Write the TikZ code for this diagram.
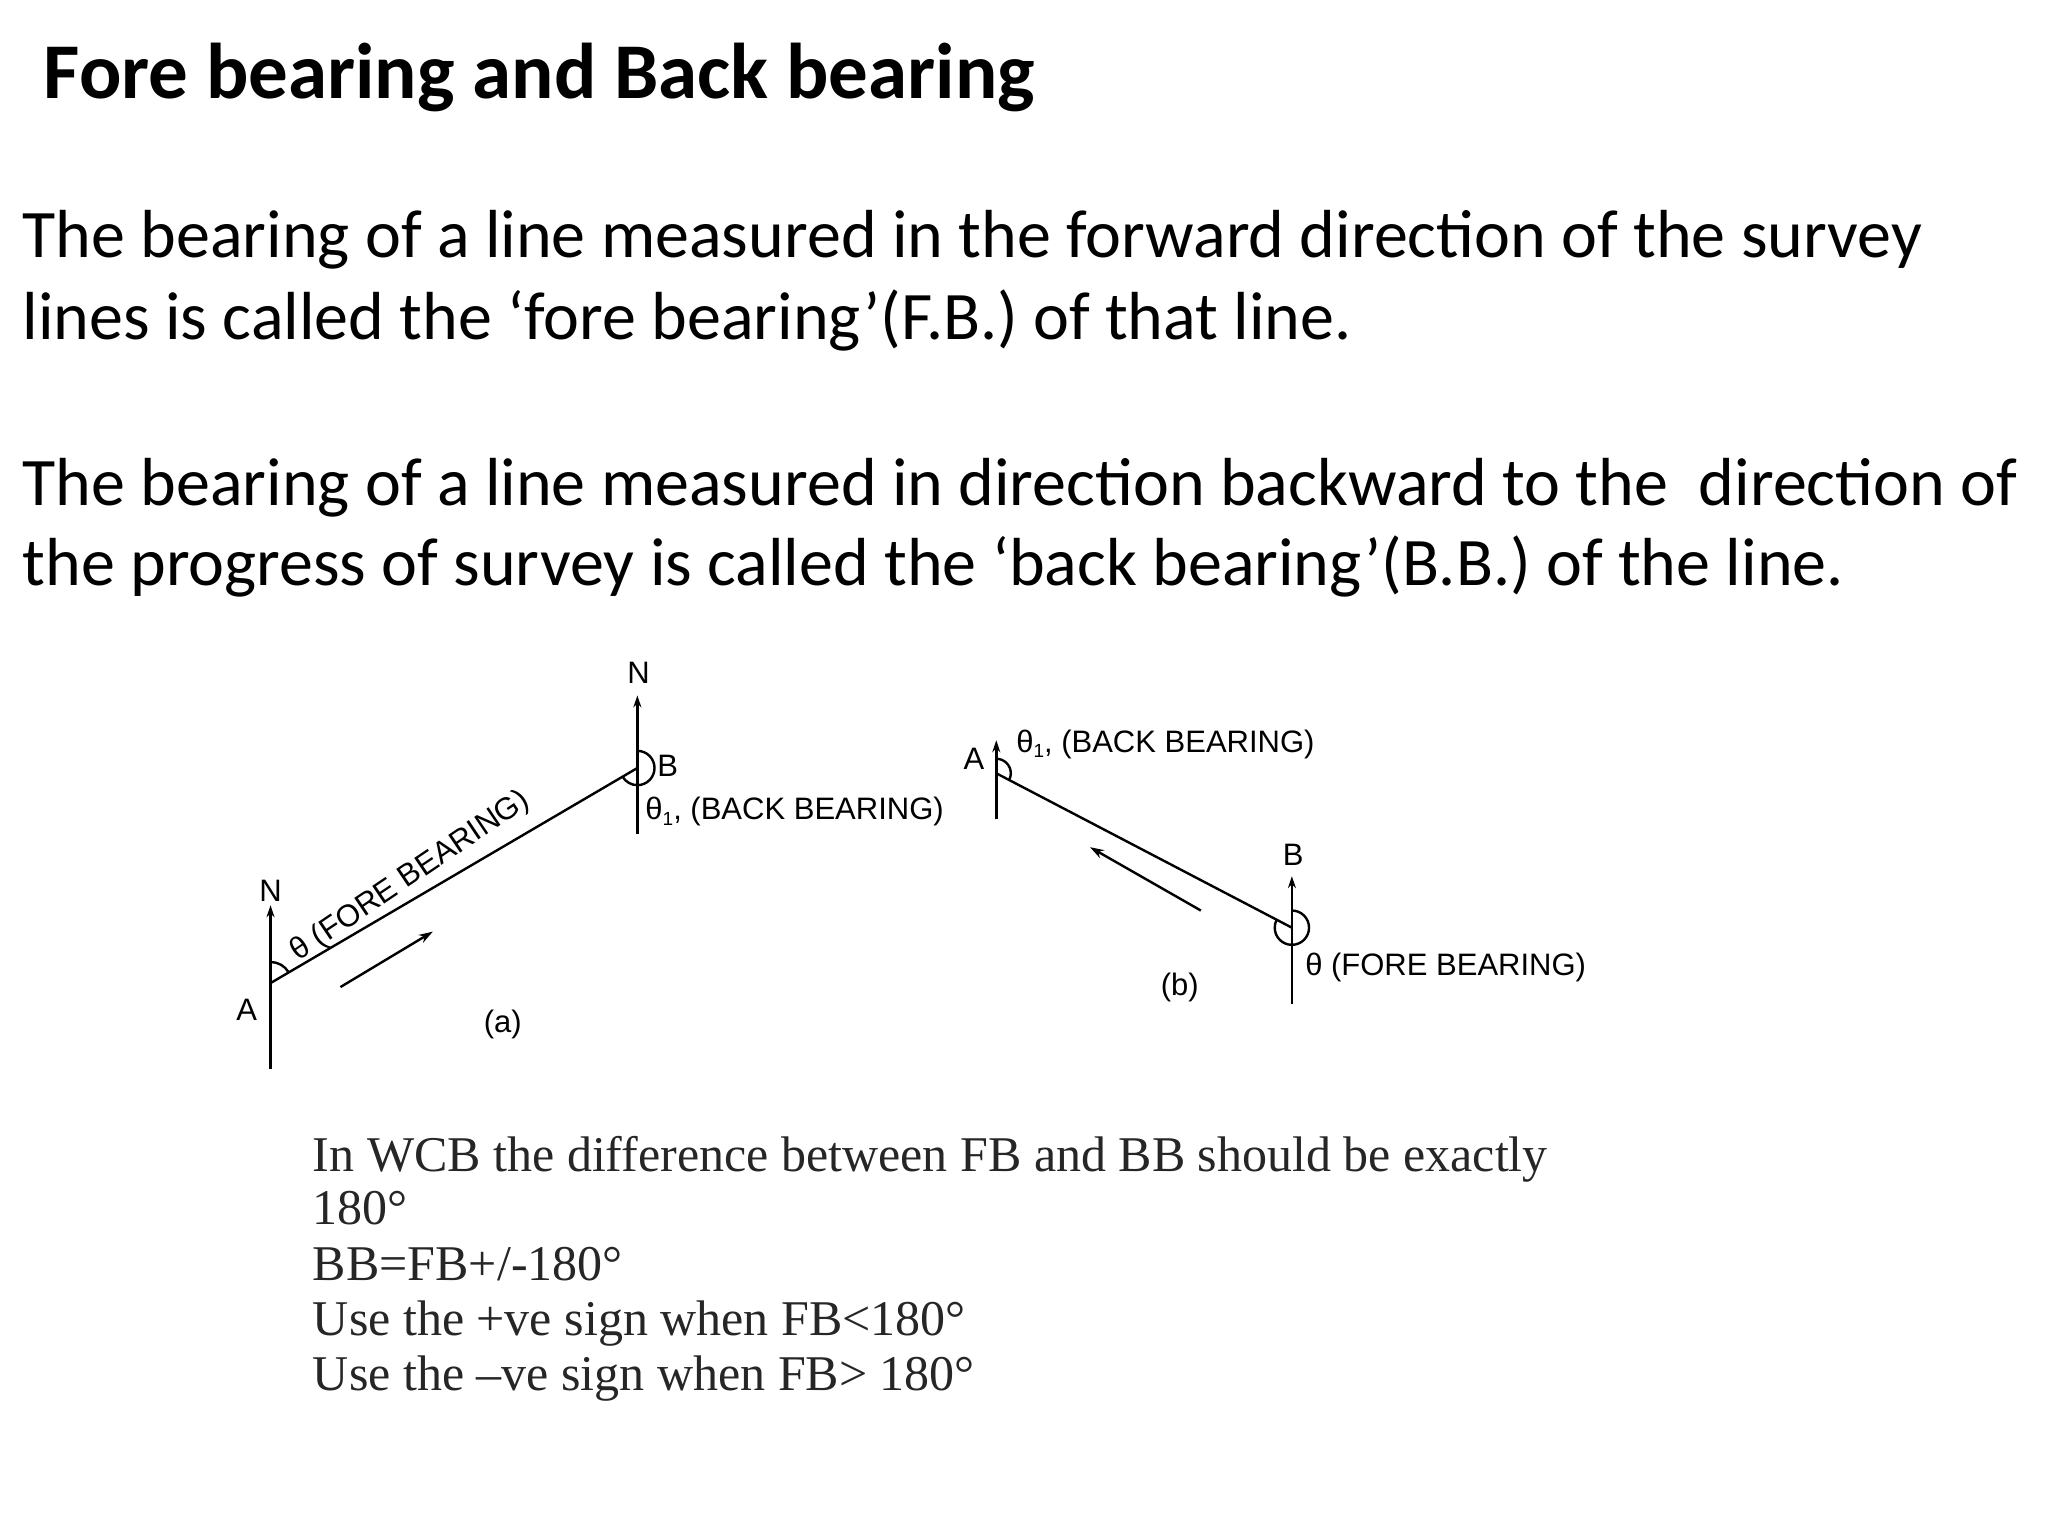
\documentclass[tikz,border=0pt]{standalone}
\usepackage{fontspec}
\setmainfont{Carlito}
\newfontfamily\diagfont{Liberation Sans}
\newfontfamily\timesfont{Liberation Serif}
\usetikzlibrary{arrows.meta,calc}
\newcommand{\subone}{\raisebox{-0.35ex}{\fontsize{19}{20}\selectfont 1}}
\begin{document}
\begin{tikzpicture}[x=1.3196pt,y=-1.3196pt,
  body/.style={anchor=base west,inner sep=0pt,font=\fontsize{68}{76}\selectfont},
  lbl/.style={inner sep=0pt,font=\diagfont\fontsize{31}{34}\selectfont},
  note/.style={anchor=base west,inner sep=0pt,text=black!85,font=\timesfont\fontsize{50}{56}\selectfont},
  ln/.style={line width=2.4pt},
  north/.style={ln,-{Stealth[length=12pt,width=8pt]}},
  dir/.style={ln,-{Stealth[length=14pt,width=9pt]}}]
\useasboundingbox (0,0) rectangle (1552,1164);
\fill[white] (0,0) rectangle (1552,1164);
\node[anchor=base west,inner sep=0pt,font=\bfseries\fontsize{79}{88}\selectfont] (title) at (33,75) {Fore bearing and Back bearing};
\node[body] (l1) at (17,195) {The bearing of a line measured in the forward direction of the survey};
\node[body] (l2) at (17,257) {lines is called the ‘fore bearing’(F.B.) of that line.};
\node[body] (l3) at (17,383) {The bearing of a line measured in direction backward to the\ \ direction of};
\node[body] (l4) at (17,444) {the progress of survey is called the ‘back bearing’(B.B.) of the line.};
% (a)
\coordinate (aA) at (205,745);
\coordinate (aAs) at (205,810);
\coordinate (aAn) at (205,686);
\coordinate (aB) at (483,582);
\coordinate (aBs) at (483,632);
\coordinate (aBn) at (483,527);
\draw[north] (aAs) -- (aAn);
\draw[ln] (aA) -- (aB);
\draw[north] (aBs) -- (aBn);
\draw[ln] ($(aA)+(0,-16)$) arc[start angle=-90,end angle=-30.7,radius=16];
\draw[ln] ($(aB)+(0,-13)$) arc[start angle=-90,end angle=149.3,radius=13];
\coordinate (aF1) at (258,748); \coordinate (aF2) at (328,706);
\draw[dir] (aF1) -- (aF2);
\node[lbl] (aN1) at (205,675) {N};
\node[lbl] (aNA) at (187,765) {A};
\node[lbl] (aN2) at (484,510) {N};
\node[lbl,anchor=west] (aNB) at (498,580) {B};
\node[lbl,anchor=base west] (aBB) at (489,621) {θ\subone,\ (BACK BEARING)};
\node[lbl,anchor=base west,rotate=34] (aFB) at (226,729) {θ (FORE BEARING)};
\node[lbl] (alab) at (381,776) {(a)};
% (b)
\coordinate (bA) at (755,586);
\coordinate (bAs) at (755,621);
\coordinate (bAn) at (755,561);
\coordinate (bB) at (979,703);
\coordinate (bBs) at (979,761);
\coordinate (bBn) at (979,664);
\draw[north] (bAs) -- (bAn);
\draw[ln] (bA) -- (bB);
\draw[north] (bBs) -- (bBn);
\draw[ln] ($(bA)+(0,-11)$) arc[start angle=-90,end angle=27.7,radius=11];
\draw[ln] ($(bB)+(0,-13)$) arc[start angle=-90,end angle=207.7,radius=13];
\coordinate (bF1) at (910,690); \coordinate (bF2) at (826,642);
\draw[dir] (bF1) -- (bF2);
\node[lbl] (bNA) at (738,575) {A};
\node[lbl,anchor=base west] (bBB) at (770,570) {θ\subone, (BACK BEARING)};
\node[lbl] (bNB) at (980,648) {B};
\node[lbl,anchor=base west] (bFB) at (989,739) {θ (FORE BEARING)};
\node[lbl] (blab) at (894,748) {(b)};
% notes
\node[note] (n1) at (237,888) {In WCB the difference between FB and BB should be exactly};
\node[note] (n2) at (237,928) {180°};
\node[note] (n3) at (237,970) {BB=FB+/-180°};
\node[note] (n4) at (237,1012) {Use the +ve sign when FB<180°};
\node[note] (n5) at (237,1054) {Use the –ve sign when FB> 180°};
\end{tikzpicture}
\end{document}
